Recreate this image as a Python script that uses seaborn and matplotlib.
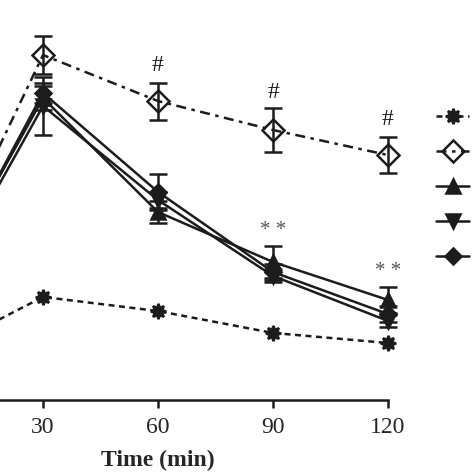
import numpy as np
import pandas as pd
import seaborn as sns
import matplotlib.pyplot as plt

# Time points (min)
time = [0, 30, 60, 90, 120]

# Group means and SEM (y axis is cut off in the reference)
control = [2.93, 6.87, 5.93, 4.47, 3.80]
model = [6.93, 23.00, 19.93, 18.00, 16.33]
model_err = [0.50, 1.27, 1.23, 1.47, 1.20]
treat_up = [6.33, 20.13, 12.53, 9.20, 6.67]
treat_up_err = [0.50, 0.80, 0.73, 1.07, 0.87]
treat_down = [5.87, 19.60, 13.33, 8.27, 5.27]
treat_down_err = [0.50, 1.93, 0.53, 0.40, 0.40]
treat_dia = [6.13, 20.47, 13.87, 8.53, 5.73]
treat_dia_err = [0.50, 0.67, 1.20, 0.53, 0.53]

labels = ['Control', 'Model', 'Low dose', 'Middle dose', 'High dose']

# Significance marks
hash_x = [60, 90, 120]
hash_y = [22.33, 20.47, 18.67]
star_x = [90, 120]
star_y = [11.3, 8.55]

sns.set_theme(style='ticks')
plt.rcParams['font.family'] = ['Liberation Serif', 'DejaVu Serif']

fig = plt.figure(figsize=(4.74, 4.74), dpi=100)
# axes extends past the left/top edge: the reference is a crop of a wider chart
ax = fig.add_axes([-72 / 474, 74 / 474, 460 / 474, 420 / 474])

ink = '#1c1c1c'
lw = 1.8

styles = [
    dict(y=control, err=None, marker=(8, 1, 0), ms=11, mfc=ink, ls=(0, (2.4, 1.8))),
    dict(y=model, err=model_err, marker='D', ms=11, mfc='none', ls=(0, (4, 2.2, 1.4, 2.2))),
    dict(y=treat_up, err=treat_up_err, marker='^', ms=10, mfc=ink, ls='-'),
    dict(y=treat_down, err=treat_down_err, marker='v', ms=10, mfc=ink, ls='-'),
    dict(y=treat_dia, err=treat_dia_err, marker='D', ms=8, mfc=ink, ls='-'),
]

for lab, st in zip(labels, styles):
    sns.lineplot(x=time, y=st['y'], ax=ax, color=ink, linewidth=lw,
                 linestyle=st['ls'], marker=st['marker'], markersize=st['ms'],
                 markerfacecolor=st['mfc'], markeredgecolor=ink,
                 markeredgewidth=1.8, label=lab, errorbar=None, clip_on=False)
    if st['err'] is not None:
        ax.errorbar(time, st['y'], yerr=st['err'], fmt='none', ecolor=ink,
                    elinewidth=1.8, capsize=6.5, capthick=1.8, clip_on=False)

for x, y in zip(hash_x, hash_y):
    ax.text(x, y, '#', ha='center', va='center', fontsize=17, color=ink)
for x, y in zip(star_x, star_y):
    ax.text(x, y, '* *', ha='center', va='center', fontsize=15, color='#555555')

ax.set_xlim(0, 120)
ax.set_ylim(0, 28)
ax.set_xticks([30, 60, 90, 120])
ax.set_yticks([])
ax.set_xlabel('Time (min)', fontsize=17, fontweight='bold', labelpad=9)
ax.tick_params(axis='x', labelsize=17, length=6, width=1.8, color=ink, pad=6)
sns.despine(ax=ax, top=True, right=True)
ax.spines['bottom'].set_linewidth(1.8)
ax.spines['bottom'].set_color(ink)
ax.spines['left'].set_linewidth(1.8)

# legend labels fall outside the crop, as in the reference
ax.legend(loc='upper left', bbox_to_anchor=(436 / 474, 1 - 109 / 474),
          bbox_transform=fig.transFigure, frameon=False, fontsize=14,
          handlelength=1.7, labelspacing=0.9, borderpad=0, borderaxespad=0,
          handletextpad=1.5)

fig.savefig('out.png', dpi=100)
